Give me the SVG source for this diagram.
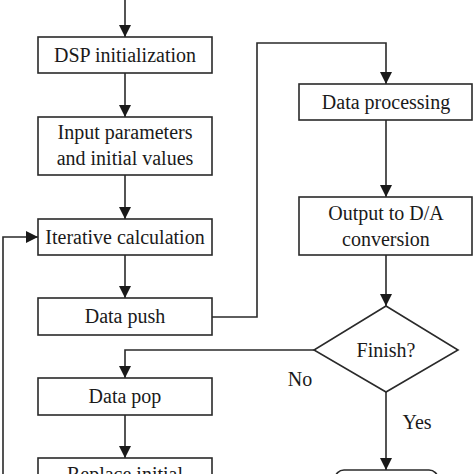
<svg xmlns="http://www.w3.org/2000/svg" width="474" height="474" viewBox="0 0 474 474">
<style>
.box{fill:#fff;stroke:#2a2a2a;stroke-width:1.6}
.ln{fill:none;stroke:#2a2a2a;stroke-width:1.6}
.t{font-family:"Liberation Serif","Times New Roman",serif;font-size:20px;fill:#1a1a1a;text-anchor:middle}
</style>
<defs>
<marker id="ah" markerUnits="userSpaceOnUse" markerWidth="12" markerHeight="14" viewBox="0 0 12 14" refX="12" refY="7" orient="auto">
<path d="M0,1 L12,7 L0,13 Z" fill="#1a1a1a"/>
</marker>
</defs>
<rect width="474" height="474" fill="#fff"/>
<g id="connectors">
<path class="ln" d="M125,0 V37" marker-end="url(#ah)"/>
<path class="ln" d="M125,73 V117" marker-end="url(#ah)"/>
<path class="ln" d="M125,175 V219" marker-end="url(#ah)"/>
<path class="ln" d="M125,255 V298" marker-end="url(#ah)"/>
<path class="ln" d="M212,317 H257 V43 H386 V84" marker-end="url(#ah)"/>
<path class="ln" d="M386,120 V197" marker-end="url(#ah)"/>
<path class="ln" d="M386,255 V306" marker-end="url(#ah)"/>
<path class="ln" d="M314,350 H125 V378" marker-end="url(#ah)"/>
<path class="ln" d="M125,415 V458" marker-end="url(#ah)"/>
<path class="ln" d="M386,392 V470" marker-end="url(#ah)"/>
<path class="ln" d="M3,474 V237 H38" marker-end="url(#ah)"/>
<text class="t" x="300" y="386">No</text>
<text class="t" x="417" y="429">Yes</text>
</g>
<g id="dsp"><rect class="box" x="38" y="37" width="174" height="36"/><text class="t" x="125" y="62">DSP initialization</text></g>
<g id="input"><rect class="box" x="38" y="117" width="174" height="58"/><text class="t" x="125" y="139">Input parameters</text><text class="t" x="125" y="165">and initial values</text></g>
<g id="iterative"><rect class="box" x="38" y="219" width="174" height="36"/><text class="t" x="125" y="244">Iterative calculation</text></g>
<g id="push"><rect class="box" x="38" y="298" width="174" height="37"/><text class="t" x="125" y="323">Data push</text></g>
<g id="pop"><rect class="box" x="38" y="378" width="174" height="37"/><text class="t" x="125" y="403">Data pop</text></g>
<g id="replace"><rect class="box" x="38" y="458" width="174" height="40"/><text class="t" x="125" y="481">Replace  initial</text></g>
<g id="processing"><rect class="box" x="299" y="84" width="173" height="36"/><text class="t" x="386" y="109">Data processing</text></g>
<g id="output"><rect class="box" x="299" y="197" width="173" height="58"/><text class="t" x="386" y="220">Output to D/A</text><text class="t" x="386" y="246">conversion</text></g>
<g id="finish"><path class="box" d="M386,306 L458,350 L386,392 L314,350 Z"/><text class="t" x="386" y="357">Finish?</text></g>
<g id="end"><rect class="box" x="335" y="470" width="103" height="30" rx="9"/></g>
</svg>
